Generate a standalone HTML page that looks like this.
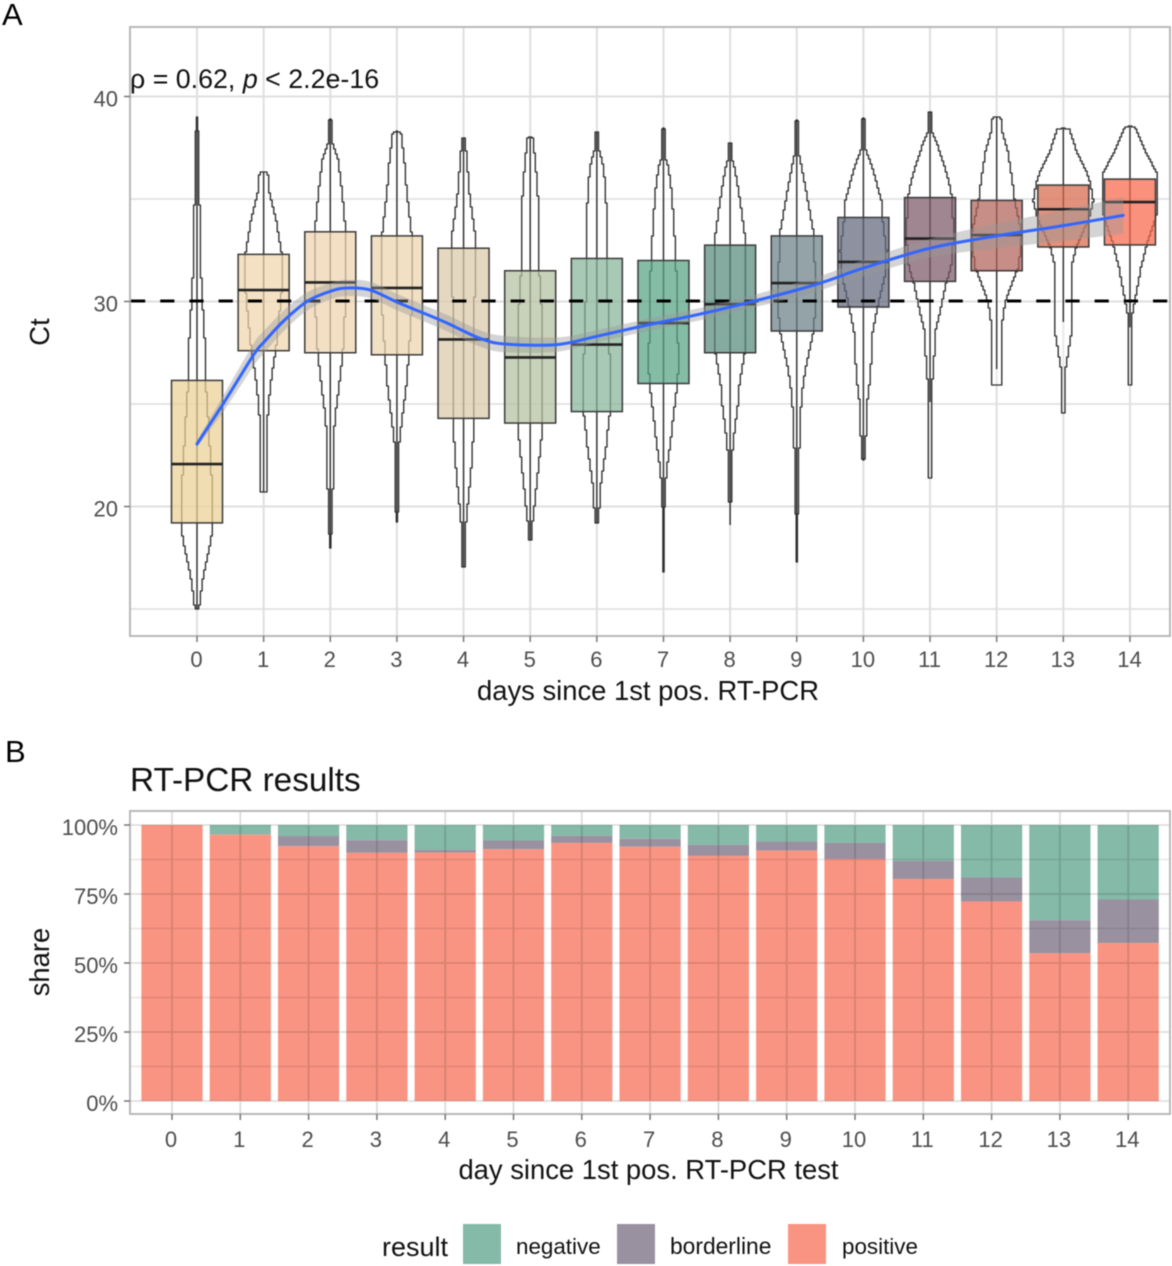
<!DOCTYPE html>
<html lang="en">
<head>
<meta charset="utf-8">
<title>Ct values and RT-PCR results by day</title>
<style>
html,body{margin:0;padding:0;background:#fff;}
body{width:1172px;height:1266px;overflow:hidden;}
svg{display:block;filter:blur(0.45px);font-family:"Liberation Sans",Arial,sans-serif;}
.tick{font-size:22px;fill:#4d4d4d;}
.title{font-size:27.4px;fill:#111;}
</style>
</head>
<body>
<svg id="fig" width="1172" height="1266" viewBox="0 0 1172 1266" xmlns="http://www.w3.org/2000/svg">
  <rect width="1172" height="1266" fill="#fff"/>
  <g id="gridA"></g>
  <g id="violins"></g>
  <g id="boxes"></g>
  <line id="refLine" x1="131" x2="1170" stroke="#000" stroke-width="3" stroke-dasharray="14.2 15"/>
  <g id="smooth"></g>
  <rect x="130" y="27" width="1040" height="609" fill="none" stroke="#b8b8b8" stroke-width="2"/>
  <g id="axesA"></g>
  <text x="2" y="25" font-size="31" fill="#000">A</text>
  <text x="130" y="88" font-size="26.8" fill="#111">ρ = 0.62, <tspan font-style="italic">p</tspan> &lt; 2.2e-16</text>
  <text class="title" x="648" y="700" text-anchor="middle">days since 1st pos. RT-PCR</text>
  <text class="title" transform="translate(49,332) rotate(-90)" text-anchor="middle">Ct</text>

  <text x="5" y="762" font-size="31" fill="#000">B</text>
  <text x="130" y="791" font-size="33.3" fill="#111">RT-PCR results</text>
  <g id="bars"></g>
  <g id="gridB" style="mix-blend-mode:multiply"></g>
  <rect x="130" y="811" width="1040" height="303" fill="none" stroke="#b8b8b8" stroke-width="2"/>
  <g id="axesB"></g>
  <text class="title" x="648.5" y="1179" text-anchor="middle">day since 1st pos. RT-PCR test</text>
  <text class="title" transform="translate(49,962) rotate(-90)" text-anchor="middle">share</text>

  <g>
    <text x="382" y="1256" font-size="27" fill="#111">result</text>
    <rect x="463" y="1224" width="38" height="40" fill="#85b9a8"/>
    <text x="516" y="1254" font-size="22.4" fill="#111">negative</text>
    <rect x="617" y="1224" width="38" height="40" fill="#9a91a0"/>
    <text x="670" y="1254" font-size="22.8" fill="#111">borderline</text>
    <rect x="788" y="1224" width="38" height="40" fill="#fa9482"/>
    <text x="842" y="1254" font-size="22.4" fill="#111">positive</text>
  </g>
</svg>
<script>
// ---------- Panel A data ----------
const days = [0,1,2,3,4,5,6,7,8,9,10,11,12,13,14];
const ctMajorTicks = [20,30,40];
const ctMinorTicks = [15,25,35];
const referenceCt = 30;
const boxQ3 = [26.15,32.3,33.4,33.2,32.6,31.5,32.1,32.0,32.75,33.2,34.1,35.07,34.93,35.68,35.97];
const boxMedian = [22.07,30.56,30.93,30.66,28.15,27.27,27.9,28.95,29.87,30.9,31.93,33.07,33.24,34.5,34.85];
const boxQ1 = [19.2,27.6,27.5,27.4,24.3,24.07,24.63,26.0,27.5,28.56,29.73,30.98,31.5,32.66,32.76];
const whiskerHigh = [39,36.3,38.9,38.3,38,38,38.27,38.46,37.73,38.85,38.95,39.24,39,38.46,38.56];
const whiskerLow = [15,20.7,18,19.25,17.05,18.37,19.2,16.8,19.1,17.3,22.27,25.1,26.7,29,28.74];
const violinCt = [
  [39,37.4,35.6,34,31.4,29.1,28,26.2,24.85,23.2,21.9,20.5,19.2,18.4,16.8,16,15],
  [36.3,35.3,34,32.4,30.5,28,27.3,26,24.7,24.3,20.7],
  [38.9,37.8,36.9,35.3,33.4,31,28.75,27.5,26.2,24.85,23.6,20.9,20.8,18],
  [38.3,36.9,35.3,33.2,30.5,27.3,25.7,24.1,22.75,21.3,19.25],
  [38,37.2,35.3,33.25,30,26.5,24.2,22.6,21,19,17.05],
  [38.02,37.4,35.93,34.12,31.54,30.07,25.2,24.07,23.24,22.27,21.39,20.46,19.49,19.2,18.37],
  [38.27,37.54,37.3,36.56,35.59,34.32,32.17,30.07,26.32,24.56,23.73,22.76,21.78,20.95,19.98,19.83,19.2],
  [38.46,37.15,36.56,35.44,34.12,32.02,30.07,26.8,25.68,24.85,24.07,23.1,22.12,21.29,20.46,19.98,16.8],
  [37.73,37.05,36.56,34.95,33.34,31.68,28.46,27.49,26.02,24.85,23.73,22.76,22.27,20.22],
  [38.85,37.39,36.56,34.95,33.34,31.68,30.07,28.61,26.8,25.68,24.7,23.24,22.6,20.46,19.49,17.3],
  [38.95,37.49,36.56,34.95,34.12,32.51,31.39,29.73,28.46,26.8,25.68,24.95,23.39,23.1,22.27],
  [39.24,38.37,37.73,36.56,35.44,33.34,31.68,30.9,29.73,28.46,26.32,26.17,25.1,25.05,21.39],
  [39,38.22,37.39,35.44,34.95,33.34,31.68,31.39,30.07,29.24,28.12,25.93],
  [38.46,37.39,36.27,35.78,34.95,34.12,32.66,31.68,28.46,26.8,26.66,25.68,25.63,24.56],
  [38.56,37.39,36.27,35.78,34.95,34.32,32.85,31.68,30.07,29.44,29.29,28.8,28.75,25.93]
];
const violinDensity = [
  [0.4,1.5,2,3,4,6.5,8,8.5,10.5,12.5,14,16,16,14,7,4.5,2],
  [4,6,12.5,18,18,13,11,7,4.5,4,4],
  [2,2,8,12,15.5,16,14,12.5,9.5,6,3.5,3,1,0.8],
  [4,7.5,10,15,16,11.7,9,4.7,1.5,1,0.8],
  [1,3,5.8,11.7,11,11,10,9,6,2,1],
  [3,4,6.7,9,9,11,12.5,12.5,11,9,7,5,3.3,2,2],
  [1.5,1.5,3,7,8.3,10,10.5,11,13.5,13,11,9,6,3.7,3,1.5,1.5],
  [1,1.2,5,8,10,12.5,13.5,15,13,11,9,7,4,2.3,1.5,0.8,0.8],
  [1.5,1.5,4.5,10,14.5,16,16,14.5,9.5,7.5,4.5,2.5,1.5,1.5],
  [1.5,1.5,5,11,17,18,19,17,9,5.5,4,3.3,2,1.5,0.7,0.7],
  [1.5,2,9,18,19,23,22,14,9,7.5,5.5,3.3,2.5,1.5,0.8],
  [1.2,1.5,7,15,21,24,21,16,11,5,3.5,1.2,1.2,2.5,2.5],
  [4,6,11,17,18,25,22,19,9,6,5.5,4.5],
  [6,13,24,27,30,26,13,8,8,2.5,1,1,2.5,2.5],
  [5,15,27,28,28,27,17,11,5,2.5,1,1,2.5,2.5]
];
const smoothDay = [0,0.4,0.85,1,1.3,1.65,2,2.25,2.6,3,3.35,3.75,4,4.25,4.6,5.4,6,6.75,7.5,8.25,9,9.45,10,11,12,13,13.9];
const smoothCt = [23.05,25.05,27.4,28.0,29.05,30.0,30.5,30.66,30.56,29.97,29.5,28.95,28.56,28.2,27.93,27.9,28.3,28.85,29.35,29.93,30.56,31,31.63,32.6,33.2,33.7,34.2];
const smoothSe = [0.15,0.4,0.55,0.55,0.5,0.45,0.4,0.4,0.4,0.4,0.4,0.4,0.4,0.4,0.4,0.35,0.3,0.3,0.3,0.3,0.35,0.35,0.4,0.45,0.6,0.75,0.9];
const boxColors = ['#f0ddb2','#f4e0c2','#f3e0c4','#f1e0c4','#e4d8c0','#c8d1ba','#a8c9b5','#85bca6','#85aaa0','#93a3a7','#8e92a0','#a08791','#c68e87','#e1917d','#fa917d'];

// ---------- Panel B data ----------
const shareDays = [0,1,2,3,4,5,6,7,8,9,10,11,12,13,14];
const negativeShare = [0,3.5,4,5.5,9,5.6,3.9,5,7.2,6,6.5,13,19,34.5,27];
const borderlineShare = [0,0,3.7,4.6,1,3.2,2.6,2.9,4,3.3,5.8,6.6,8.7,12,15.8];
const positiveShare = [100,96.5,92.3,89.9,90,91.2,93.5,92.1,88.8,90.7,87.7,80.4,72.3,53.5,57.2];
const shareTicks = [0,25,50,75,100];
const shareMinor = [12.5,37.5,62.5,87.5];
const shareColors = {neg:'#85b9a8',bord:'#9a91a0',pos:'#fa9482'};

// ---------- Scales ----------
const xA = d => 197 + 66.64 * d;
const yA = v => 301.5 - (v - 30) * 20.5;
const invYA = y => 30 - (y - 301.5) / 20.5;
const xB = d => 172 + 68.3 * d;
const yB = p => 1101 - 2.76 * p;
const densityScale = 1;
const boxHalf = 25.5;
const barHalf = 30.6;
const NS = 'http://www.w3.org/2000/svg';

function make(parent, tag, attrs, text) {
  const el = document.createElementNS(NS, tag);
  for (const k in attrs) el.setAttribute(k, attrs[k]);
  if (text !== undefined) el.textContent = text;
  parent.appendChild(el);
  return el;
}
function throughAlpha(hex, a) {
  const n = [1,3,5].map(i => parseInt(hex.substr(i,2),16));
  const c = n.map(v => Math.max(0, Math.round((v - 255 * (1 - a)) / a)));
  return 'rgb(' + c.join(',') + ')';
}
function interp(xs, ys, x) {
  for (let i = 0; i < xs.length - 1; i++) {
    if (x <= xs[i] && x >= xs[i+1]) {
      const t = (xs[i] - x) / ((xs[i] - xs[i+1]) || 1);
      return ys[i] + t * (ys[i+1] - ys[i]);
    }
  }
  return ys[ys.length-1];
}
// Catmull-Rom spline through screen points, expressed as cubic Bezier segments
function splineSegments(pts) {
  let s = '';
  for (let i = 0; i < pts.length - 1; i++) {
    const p0 = pts[Math.max(0, i-1)], p1 = pts[i], p2 = pts[i+1], p3 = pts[Math.min(pts.length-1, i+2)];
    const c1x = p1[0] + (p2[0]-p0[0]) / 6, c1y = p1[1] + (p2[1]-p0[1]) / 6;
    const c2x = p2[0] - (p3[0]-p1[0]) / 6, c2y = p2[1] - (p3[1]-p1[1]) / 6;
    s += ' C' + c1x.toFixed(1) + ',' + c1y.toFixed(1) + ' ' + c2x.toFixed(1) + ',' + c2y.toFixed(1) + ' ' + p2[0].toFixed(1) + ',' + p2[1].toFixed(1);
  }
  return s;
}

// ---------- Panel A ----------
const gridA = document.getElementById('gridA');
ctMinorTicks.forEach(v => {
  const l = make(gridA, 'line', {x1:130,x2:1170,y1:yA(v),y2:yA(v),stroke:'#e2e2e2','stroke-width':1.7});
  
  
});
ctMajorTicks.forEach(v => {
  const l = make(gridA, 'line', {x1:130,x2:1170,y1:yA(v),y2:yA(v),stroke:'#dfdfdf','stroke-width':2});
  
  
});
days.forEach(d => {
  const l = make(gridA, 'line', {x1:xA(d),x2:xA(d),y1:27,y2:636,stroke:'#dfdfdf','stroke-width':2});
  
  
});

const vG = document.getElementById('violins');
days.forEach((d, i) => {
  const cts = violinCt[i], dens = violinDensity[i], cx = xA(d);
  const y0 = Math.round(yA(cts[0])), y1 = Math.round(yA(cts[cts.length-1]));
  const right = [], left = [];
  let prev = null;
  for (let y = y0; y <= y1; y++) {
    const raw = interp(cts, dens, invYA(y)) * densityScale;
    const w = Math.max(0.6, Math.round(raw / 1.7) * 1.7);
    if (prev !== null && w !== prev) {
      right.push((cx + prev).toFixed(1) + ',' + y);
      left.unshift((cx - prev).toFixed(1) + ',' + y);
    }
    right.push((cx + w).toFixed(1) + ',' + y);
    left.unshift((cx - w).toFixed(1) + ',' + y);
    prev = w;
  }
  const p = make(vG, 'polygon', {points: right.concat(left).join(' '), fill:'#fff', 'fill-opacity':0.35, stroke:'#2e2e2e','stroke-width':1.35,'stroke-linejoin':'round'});
  
  
  const w = make(vG, 'line', {x1:cx,x2:cx,y1:yA(whiskerHigh[i]),y2:yA(whiskerLow[i]),stroke:'#2e2e2e','stroke-width':1.4});
  
  
});

const bG = document.getElementById('boxes');
days.forEach((d, i) => {
  const cx = xA(d);
  const r = make(bG, 'rect', {x:cx-boxHalf,y:yA(boxQ3[i]),width:boxHalf*2,height:yA(boxQ1[i])-yA(boxQ3[i]),fill:throughAlpha(boxColors[i],0.72),'fill-opacity':0.72,stroke:'#3a3a3a','stroke-width':1.5});
  
  
  const m = make(bG, 'line', {x1:cx-boxHalf,x2:cx+boxHalf,y1:yA(boxMedian[i]),y2:yA(boxMedian[i]),stroke:'#222','stroke-width':2.6});
  
  
});

const ref = document.getElementById('refLine');
ref.setAttribute('y1', yA(referenceCt) - 0.5);
ref.setAttribute('y2', yA(referenceCt) - 0.5);

const sG = document.getElementById('smooth');
const upperPts = smoothDay.map((d, i) => [xA(d), yA(smoothCt[i] + smoothSe[i])]);
const lowerPts = smoothDay.map((d, i) => [xA(d), yA(smoothCt[i] - smoothSe[i])]).reverse();
const linePts = smoothDay.map((d, i) => [xA(d), yA(smoothCt[i])]);
const ribbon = make(sG, 'path', {d: 'M' + upperPts[0][0].toFixed(1) + ',' + upperPts[0][1].toFixed(1) + splineSegments(upperPts) + ' L' + lowerPts[0][0].toFixed(1) + ',' + lowerPts[0][1].toFixed(1) + splineSegments(lowerPts) + ' Z', fill:'#999', 'fill-opacity':0.42});


const trend = make(sG, 'path', {d: 'M' + linePts[0][0].toFixed(1) + ',' + linePts[0][1].toFixed(1) + splineSegments(linePts), fill:'none', stroke:'#3366ff','stroke-width':3,'stroke-linejoin':'round','stroke-linecap':'round'});



const axA = document.getElementById('axesA');
ctMajorTicks.forEach(v => {
  const t = make(axA, 'line', {x1:124,x2:130,y1:yA(v),y2:yA(v),stroke:'#777','stroke-width':1.5});
  
  
  const l = make(axA, 'text', {x:118,y:yA(v)+10,'text-anchor':'end','class':'tick'}, String(v));
  
  
});
days.forEach(d => {
  const t = make(axA, 'line', {x1:xA(d),x2:xA(d),y1:636,y2:642,stroke:'#777','stroke-width':1.5});
  
  
  const l = make(axA, 'text', {x:xA(d)-0.5,y:667,'text-anchor':'middle','class':'tick'}, String(d));
  
  
});

// ---------- Panel B ----------
const barG = document.getElementById('bars');
shareDays.forEach((d, i) => {
  const cx = xB(d);
  const pos = positiveShare[i], bord = borderlineShare[i], neg = negativeShare[i];
  if (neg > 0) {
    const n = make(barG, 'rect', {x:cx-barHalf,y:yB(pos+bord+neg),width:barHalf*2,height:yB(pos+bord)-yB(pos+bord+neg),fill:shareColors.neg});
    
    
  }
  if (bord > 0) {
    const b = make(barG, 'rect', {x:cx-barHalf,y:yB(pos+bord),width:barHalf*2,height:yB(pos)-yB(pos+bord),fill:shareColors.bord});
    
    
  }
  const p = make(barG, 'rect', {x:cx-barHalf,y:yB(pos),width:barHalf*2,height:yB(0)-yB(pos),fill:shareColors.pos});
  
  
});

const gridB = document.getElementById('gridB');
shareMinor.forEach(v => {
  const l = make(gridB, 'line', {x1:130,x2:1170,y1:yB(v),y2:yB(v),stroke:'#e6e6e6','stroke-width':1.5});
  
  
});
shareTicks.forEach(v => {
  const l = make(gridB, 'line', {x1:130,x2:1170,y1:yB(v),y2:yB(v),stroke:'#dedede','stroke-width':1.8});
  
  
});
shareDays.forEach(d => {
  const l = make(gridB, 'line', {x1:xB(d),x2:xB(d),y1:811,y2:1114,stroke:'#dcdcdc','stroke-width':1.8});
  
  
});

const axB = document.getElementById('axesB');
shareTicks.forEach(v => {
  const t = make(axB, 'line', {x1:124,x2:130,y1:yB(v),y2:yB(v),stroke:'#777','stroke-width':1.5});
  
  
  const l = make(axB, 'text', {x:118,y:yB(v)+10,'text-anchor':'end','class':'tick'}, v + '%');
  
  
});
shareDays.forEach(d => {
  const t = make(axB, 'line', {x1:xB(d),x2:xB(d),y1:1114,y2:1120,stroke:'#777','stroke-width':1.5});
  
  
  const l = make(axB, 'text', {x:xB(d)-1,y:1147,'text-anchor':'middle','class':'tick'}, String(d));
  
  
});
</script>
</body>
</html>
